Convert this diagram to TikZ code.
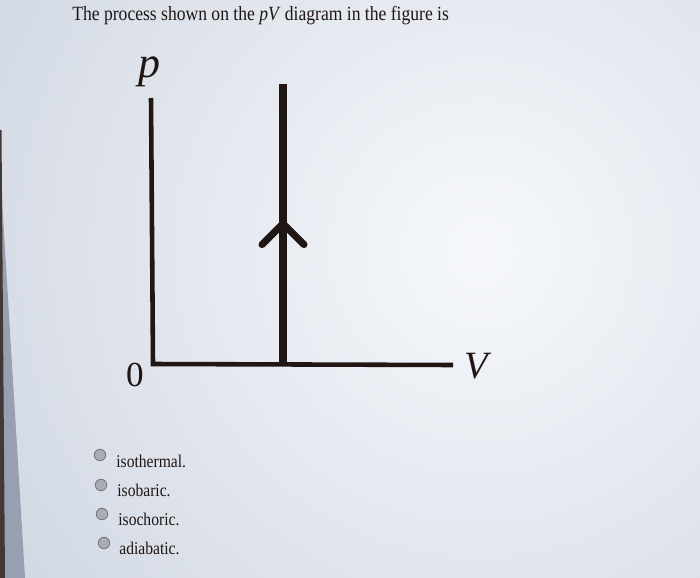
\documentclass[tikz,border=0pt]{standalone}
\usepackage{fontspec}
\setmainfont{Liberation Serif}
\usetikzlibrary{decorations.markings,arrows.meta}

\definecolor{ink}{RGB}{32,22,20}
\definecolor{screen}{RGB}{205,212,224}
\definecolor{glow}{RGB}{246,248,251}
\definecolor{bezel}{RGB}{150,160,176}
\definecolor{radiogray}{RGB}{168,172,180}
\newcommand{\squeeze}[1]{\scalebox{0.87}[1]{#1}}

\tikzset{
  radio/.style={circle,draw=radiogray!70!black,fill=radiogray,line width=0.5pt,
    minimum size=0.23cm,inner sep=0pt},
  answer/.style={anchor=base west,inner sep=0pt,text=ink,
    font=\fontsize{10.2}{12}\selectfont}
}

\begin{document}
\begin{tikzpicture}[x=0.02cm,y=-0.02cm]

  \useasboundingbox (0,0) rectangle (700,578);
  \begin{scope}
    \clip (0,0) rectangle (700,578);
    \shade[inner color=glow,outer color=screen] (480,250) circle (640);
    \fill[bezel] (0,200) -- (2,200) -- (25,578) -- (0,578) -- cycle;
    \fill[ink!85] (0,130) -- (1.5,130) -- (5,578) -- (0,578) -- cycle;
  \end{scope}

  % title
  \node[anchor=base west,inner sep=0pt,text=ink,font=\fontsize{11.5}{13}\selectfont]
    (title) at (72,20) {\squeeze{The process shown on the \textit{pV} diagram in the figure is}};

  % axes
  \coordinate (O) at (153,364);
  \coordinate (ptop) at (151,98);
  \coordinate (vend) at (453,365);
  \draw[ink,line width=2.6pt,line join=miter] (ptop) -- (O) -- (vend);

  \node[text=ink,font=\fontsize{25}{28}\selectfont\itshape] (plabel) at (149,72) {p};
  \node[text=ink,font=\fontsize{20}{22}\selectfont] (zero) at (135,375) {0};
  \node[text=ink,font=\fontsize{22}{24}\selectfont\itshape] (vlabel) at (476,366) {V};

  % process
  \coordinate (procbot) at (283,364);
  \coordinate (proctop) at (283,84);
  \draw[ink,line width=5pt,postaction={decorate},
    decoration={markings,mark=at position 0.514 with
      {\arrow[line width=4pt]{Straight Barb[length=0.42cm,width=0.84cm,round]}}}]
    (procbot) -- (proctop);

  % answers
  \node[radio] (r1) at (100,455) {};
  \node[radio] (r2) at (101,485) {};
  \node[radio] (r3) at (102,514) {};
  \node[radio] (r4) at (104,543) {};

  \node[answer] (a1) at (116,467) {\squeeze{isothermal.}};
  \node[answer] (a2) at (117,496) {\squeeze{isobaric.}};
  \node[answer] (a3) at (118,525) {\squeeze{isochoric.}};
  \node[answer] (a4) at (119,554) {\squeeze{adiabatic.}};

\end{tikzpicture}
\end{document}
